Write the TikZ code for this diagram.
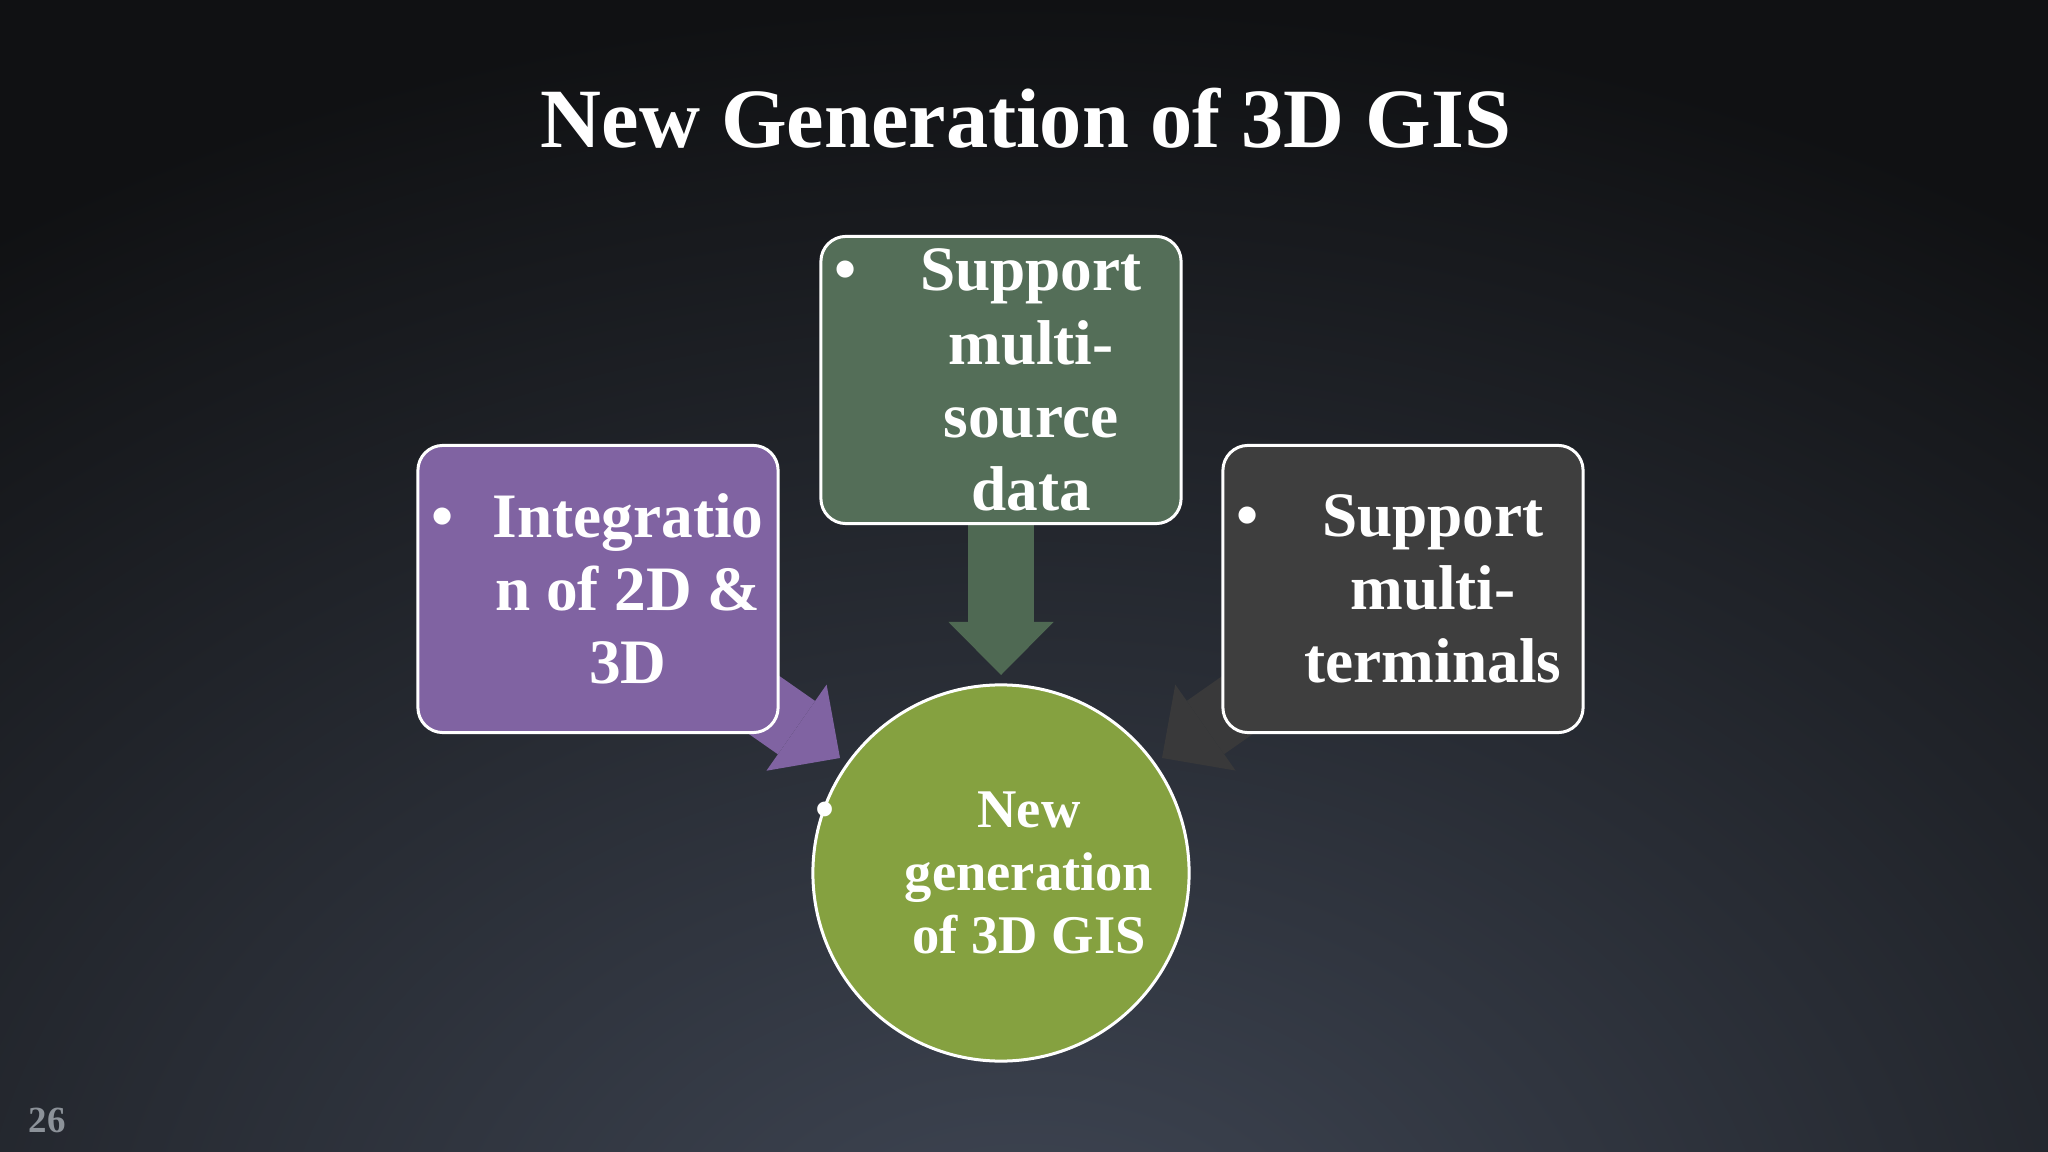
\documentclass[tikz,border=0pt]{standalone}
\usepackage{fontspec}
\setmainfont{Liberation Serif}
\usetikzlibrary{arrows.meta, positioning, calc}

\definecolor{bgDark}{RGB}{16,17,19}
\definecolor{bgLight}{RGB}{64,71,85}
\definecolor{purpleBox}{RGB}{128,99,162}
\definecolor{greenBox}{RGB}{84,110,88}
\definecolor{greenArrow}{RGB}{79,105,83}
\definecolor{darkBox}{RGB}{62,62,62}
\definecolor{darkArrow}{RGB}{57,57,58}
\definecolor{oliveHub}{RGB}{133,161,64}
\definecolor{pageGrey}{RGB}{140,146,153}

\pgfdeclarelayer{bg}
\pgfdeclarelayer{links}
\pgfsetlayers{bg,links,main}

\tikzset{
  card/.style={draw=white, line width=0.03cm, rounded corners=0.25cm,
    minimum width=3.6cm, minimum height=2.87cm, inner sep=0pt, text=white,
    font=\fontsize{18}{20.8}\selectfont\bfseries},
  hub/.style={circle, draw=white, line width=0.03cm, fill=oliveHub,
    minimum size=3.76cm, inner sep=0pt, text=white,
    font=\fontsize{15.5}{17.8}\selectfont\bfseries},
  blockarrow/.style={line width=0.65cm,
    -{Triangle[length=0.53cm, width=1.05cm, line width=0pt]}},
}

\newcommand{\cardtext}[1]{\parbox[t]{0.6cm}{\hspace*{0.14cm}\textbullet}\parbox[t]{3.0cm}{\centering #1}}
\newcommand{\hubtext}[1]{\parbox[t]{0.56cm}{\hspace*{-0.275cm}\textbullet}\parbox[t]{2.6cm}{\centering #1}}

\begin{document}
\begin{tikzpicture}[x=0.01cm, y=-0.01cm]
% Background
\begin{pgfonlayer}{bg}
\fill[bgDark] (0,0) rectangle (2048,1152);
\useasboundingbox (0,0) rectangle (2048,1152);
\begin{scope}
\clip (0,0) rectangle (2048,1152);
\shade[inner color=bgLight, outer color=bgDark] (1024,1300) ellipse (1800 and 1300);
\end{scope}
\end{pgfonlayer}

% Title
\node[font=\fontsize{24}{28}\selectfont\bfseries, text=white, anchor=base] (title) at (1026,148) {New Generation of 3D GIS};

% Boxes
\node[card, fill=purpleBox] (integ) at (598,589) {\cardtext{Integratio\\n of 2D \&\\3D}};
\node[card, fill=greenBox] (sources) at (1001,380) {\cardtext{Support\\multi-\\source\\data}};
\node[card, fill=darkBox] (terms) at (1403,589) {\cardtext{Support\\multi-\\terminals}};
\node[hub] (hub) at (1001,873) {\hubtext{New\\generation\\of 3D GIS}};

% Arrow tips
\coordinate (tipInteg) at (840,758);
\coordinate (tipSources) at (1001,675);
\coordinate (tipTerms) at (1162,758);

\begin{pgfonlayer}{links}
\draw[blockarrow, purpleBox] (integ.center) -- (tipInteg);
\draw[blockarrow, greenArrow] (sources.center) -- (tipSources);
\draw[blockarrow, darkArrow] (terms.center) -- (tipTerms);
\end{pgfonlayer}

% Page number
\node[font=\fontsize{10.5}{12}\selectfont\bfseries, text=pageGrey, anchor=base west, inner sep=0pt] (page) at (28,1132) {26};
\end{tikzpicture}
\end{document}
